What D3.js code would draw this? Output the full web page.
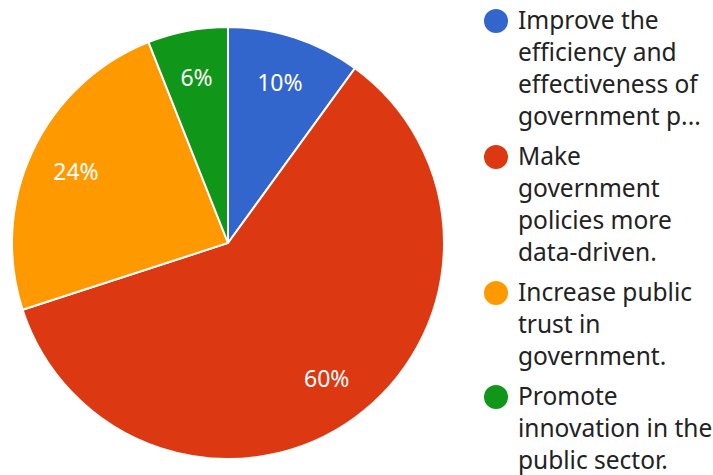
<!DOCTYPE html>
<html>
<head>
<meta charset="utf-8">
<script src="https://cdn.jsdelivr.net/npm/d3@7"></script>
<style>
  html, body { margin: 0; padding: 0; background: #fff; }
  svg { display: block; }
</style>
</head>
<body>
<svg id="chart" width="713" height="475"></svg>
<script>
// Slice data, clockwise from 12 o'clock
var categories = [
    "Improve the efficiency and effectiveness of government p...",
    "Make government policies more data-driven.",
    "Increase public trust in government.",
    "Promote innovation in the public sector."
];
var values = [10, 60, 24, 6];
// Legend text as it wraps in the picture
var legendLines = [
    ["Improve the", "efficiency and", "effectiveness of", "government p..."],
    ["Make", "government", "policies more", "data-driven."],
    ["Increase public", "trust in", "government."],
    ["Promote", "innovation in the", "public sector."]
];
var colors = ["#3366cc", "#dc3912", "#ff9900", "#109618"];

var svg = d3.select("#chart");
var font = "'Noto Sans', sans-serif";

var cx = 228, cy = 243, radius = 216;

var pie = d3.pie().sort(null).value(function(d) { return d; });
var arcs = pie(values);
var total = d3.sum(values);

var arc = d3.arc().innerRadius(0).outerRadius(radius);
var labelArc = d3.arc().innerRadius(168).outerRadius(168);

var g = svg.append("g").attr("transform", "translate(" + cx + "," + cy + ")");

g.selectAll("path")
    .data(arcs)
    .enter().append("path")
    .attr("d", arc)
    .attr("fill", function(d, i) { return colors[i]; })
    .attr("stroke", "#fff")
    .attr("stroke-width", 2);

g.selectAll("text")
    .data(arcs)
    .enter().append("text")
    .attr("transform", function(d) { return "translate(" + labelArc.centroid(d) + ")"; })
    .attr("text-anchor", "middle")
    .attr("dy", "0.35em")
    .attr("font-family", font)
    .attr("font-size", 23)
    .attr("fill", "#fff")
    .text(function(d) { return Math.round(d.data / total * 100) + "%"; });

// Legend
var lineHeight = 32, itemGap = 8;
var legend = svg.append("g");
var y = 21;
for (var i = 0; i < categories.length; ++i)
{
    var item = legend.append("g").attr("class", "legend-item");
    item.append("title").text(categories[i]);
    item.append("circle")
        .attr("cx", 496)
        .attr("cy", y)
        .attr("r", 12)
        .attr("fill", colors[i]);
    var t = item.append("text")
        .attr("font-family", font)
        .attr("font-size", 24.5)
        .attr("fill", "#222");
    for (var j = 0; j < legendLines[i].length; ++j)
    {
        t.append("tspan")
            .attr("x", 518)
            .attr("y", y + 8 + j * lineHeight)
            .text(legendLines[i][j]);
    }
    y += legendLines[i].length * lineHeight + itemGap;
}
</script>
</body>
</html>
